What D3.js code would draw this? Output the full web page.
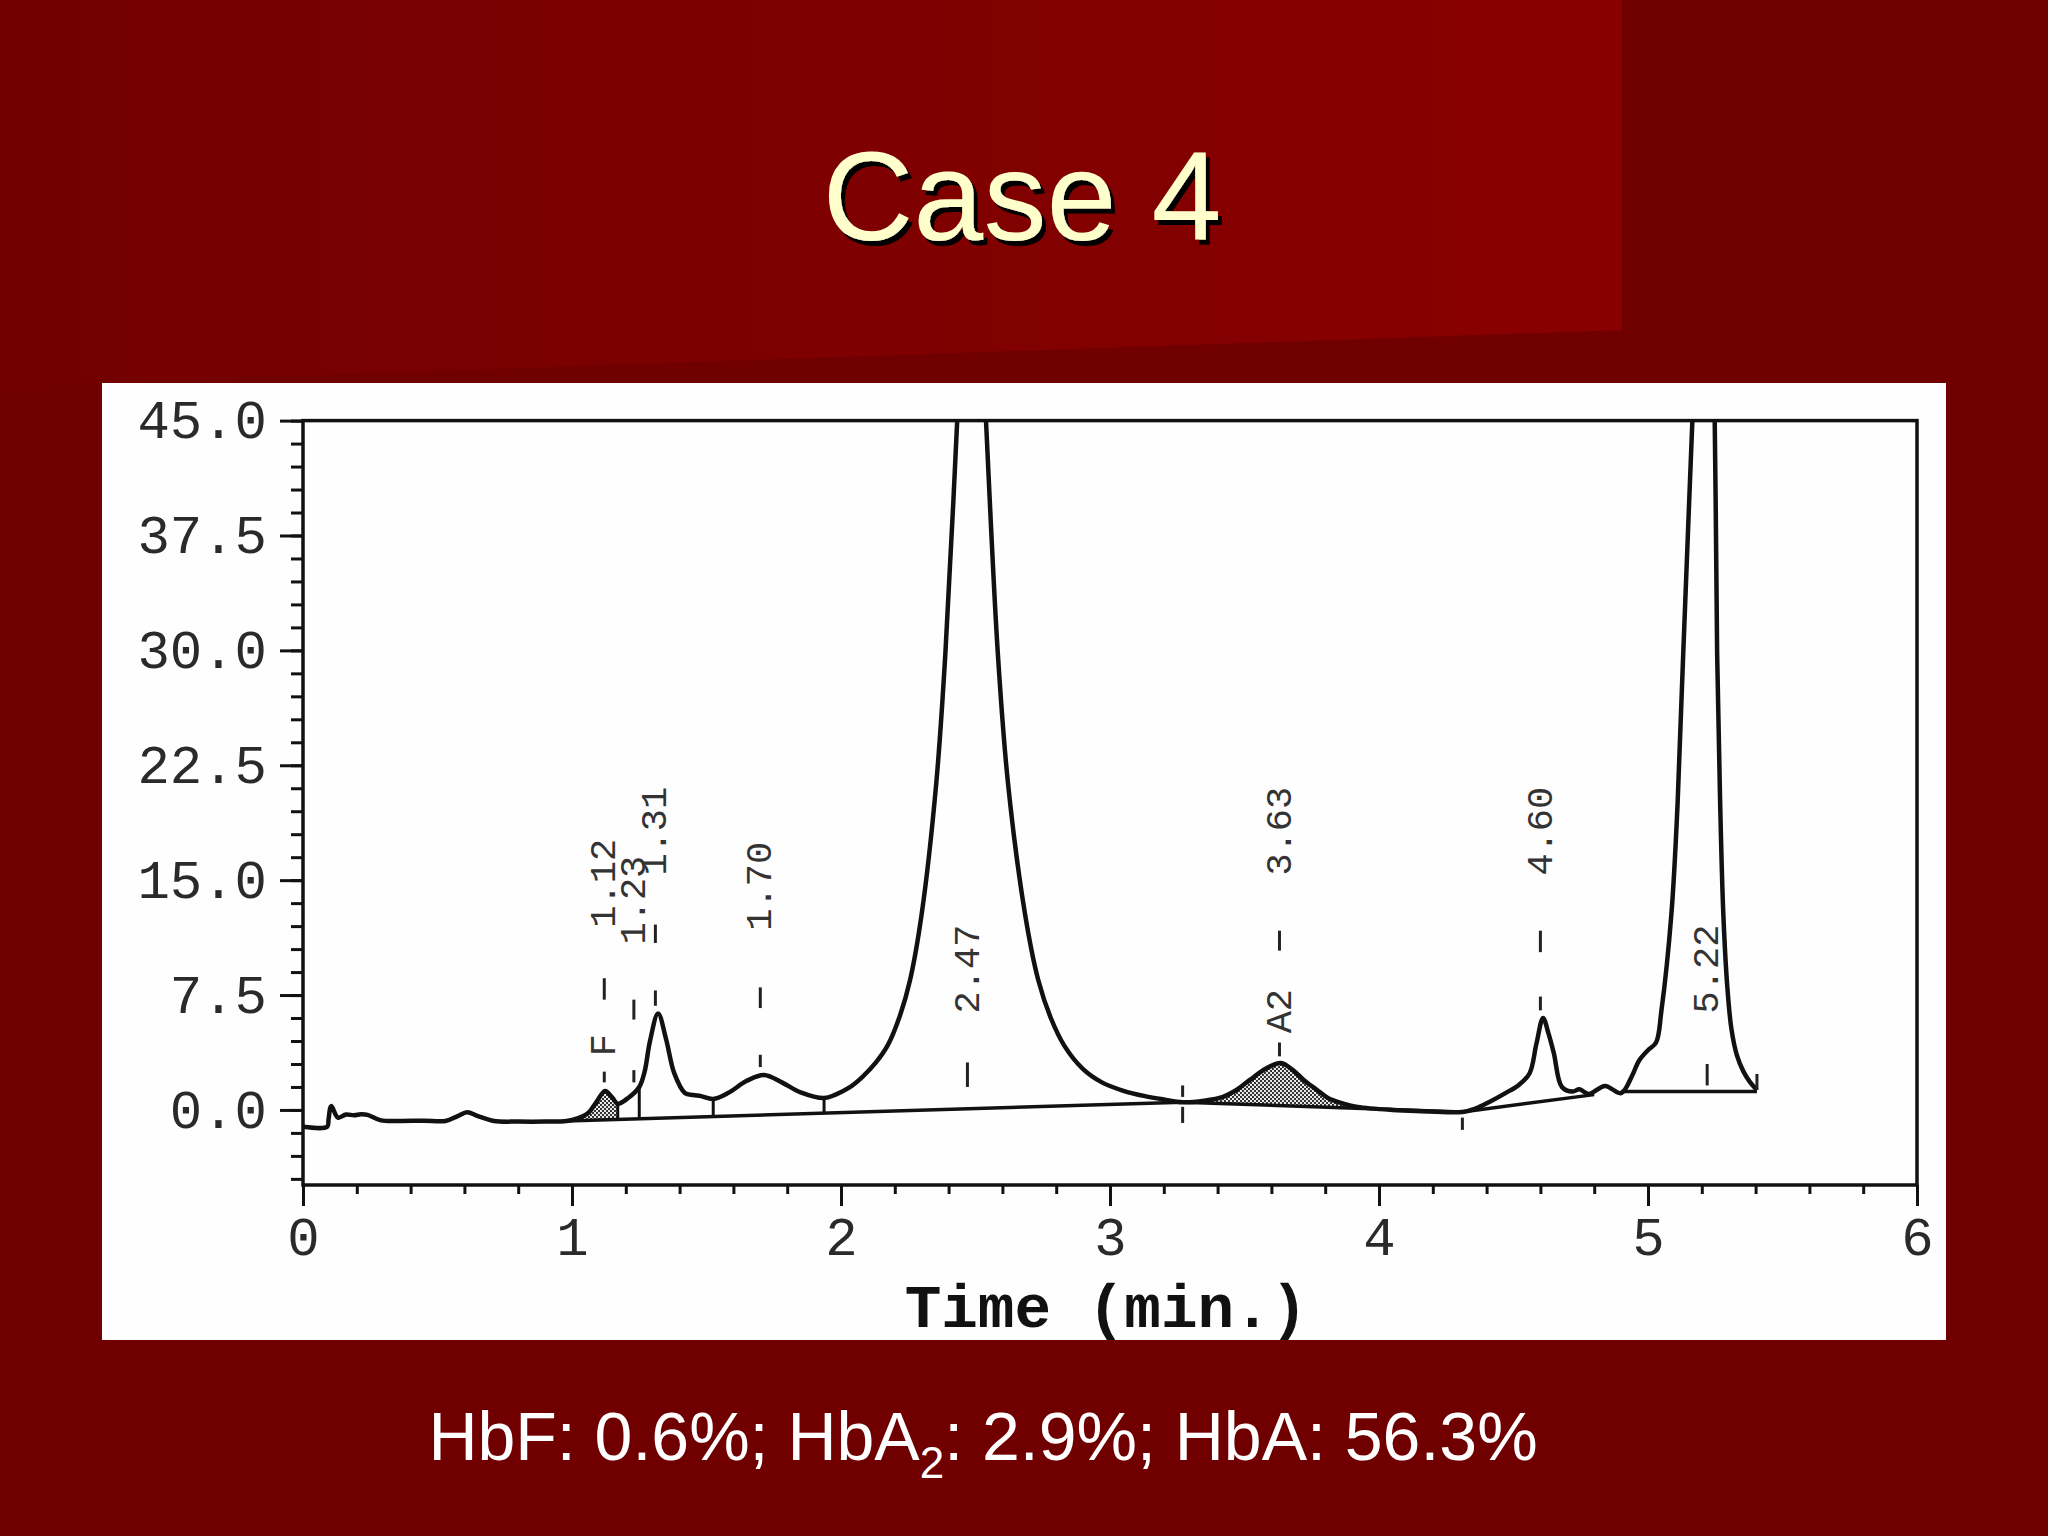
<!DOCTYPE html>
<html><head><meta charset="utf-8">
<script src="https://cdn.jsdelivr.net/npm/d3@7"></script>
<style>html,body{margin:0;padding:0;background:#700000;} svg{display:block}</style>
</head><body>
<svg id="c" width="2048" height="1536"></svg>
<script>
// ---------- data ----------
const times = [0, 0.09, 0.095, 0.105, 0.13, 0.16, 0.19, 0.215, 0.24, 0.29, 0.36, 0.45, 0.53, 0.575, 0.61, 0.65, 0.71, 0.80, 0.90, 0.98, 1.02, 1.06, 1.09, 1.123, 1.15, 1.17, 1.21, 1.25, 1.27, 1.29, 1.32, 1.35, 1.38, 1.42, 1.45, 1.48, 1.525, 1.58, 1.65, 1.714, 1.78, 1.85, 1.937, 1.98, 2.03, 2.078, 2.13, 2.175, 2.22, 2.257, 2.30, 2.354, 2.388, 2.432, 2.47, 2.50, 2.539, 2.583, 2.621, 2.684, 2.733, 2.78, 2.83, 2.898, 2.97, 3.05, 3.13, 3.20, 3.27, 3.35, 3.42, 3.47, 3.52, 3.58, 3.635, 3.68, 3.72, 3.77, 3.81, 3.87, 3.92, 4.05, 4.14, 4.31, 4.36, 4.41, 4.47, 4.52, 4.56, 4.585, 4.61, 4.63, 4.65, 4.68, 4.72, 4.745, 4.78, 4.84, 4.90, 4.94, 4.966, 5.00, 5.03, 5.05, 5.087, 5.11, 5.131, 5.165, 5.20, 5.23, 5.248, 5.257, 5.268, 5.28, 5.295, 5.31, 5.33, 5.355, 5.38, 5.405];
const signal = [-1.1, -1.1, -0.6, 0.25, -0.5, -0.3, -0.35, -0.28, -0.32, -0.68, -0.72, -0.7, -0.72, -0.4, -0.15, -0.4, -0.72, -0.76, -0.76, -0.72, -0.55, -0.2, 0.5, 1.24, 0.8, 0.4, 0.8, 1.5, 2.5, 4.5, 6.3, 4.6, 2.4, 1.1, 0.98, 0.9, 0.72, 1.1, 1.9, 2.28, 1.8, 1.15, 0.78, 1.0, 1.45, 2.13, 3.1, 4.26, 6.2, 8.5, 12.8, 21.3, 29.8, 45, 60, 60, 45, 29.8, 21.3, 12.8, 8.5, 6.0, 4.2, 2.7, 1.8, 1.25, 0.9, 0.68, 0.5, 0.6, 0.85, 1.3, 1.96, 2.7, 3.07, 2.6, 1.96, 1.3, 0.78, 0.4, 0.2, 0.0, -0.07, -0.13, 0.1, 0.52, 1.1, 1.63, 2.4, 4.3, 6.0, 5.0, 3.7, 1.5, 1.2, 1.35, 1.04, 1.57, 1.1, 2.2, 3.2, 3.9, 4.4, 6.5, 12.8, 20.0, 29.8, 45, 60, 60, 45, 29.8, 20.2, 12.8, 8.0, 5.3, 3.6, 2.5, 1.8, 1.3];

const yTicksMajor = [0, 7.5, 15, 22.5, 30, 37.5, 45];
const yTicksMinor = d3.range(-4.5, 45.01, 1.5);
const xTicksMajor = [0, 1, 2, 3, 4, 5, 6];
const xTicksMinor = d3.range(0, 6.001, 0.2);

const peakTimes  = [1.12, 1.23, 1.31, 1.70, 2.47, 3.63, 4.60, 5.22];
const peakLabels = ["1.12", "1.23", "1.31", "1.70", "2.47", "3.63", "4.60", "5.22"];
const peakNameTimes = [1.12, 3.63];
const peakNames = ["F", "A2"];

// integration baselines [t0, v0, t1, v1]
const baselines = [[0.98, -0.72, 3.27, 0.5], [3.27, 0.5, 4.31, -0.13], [4.31, -0.13, 4.80, 1.0], [4.90, 1.2, 5.405, 1.2]];
const dropTimes = [1.17, 1.25, 1.525, 1.937];
const shadedRanges = [[0.98, 1.17], [3.27, 3.95]];
// retention / event marks [t, vTop, vBottom]
const marks = [[1.12, 8.6, 7.2], [1.12, 2.5, 1.8], [1.23, 7.2, 5.9], [1.23, 2.6, 1.8], [1.31, 12.1, 10.9], [1.31, 7.8, 6.8], [1.70, 8.0, 6.65], [1.70, 3.6, 2.8], [2.47, 3.1, 1.5], [3.63, 11.7, 10.4], [3.63, 4.4, 3.5], [4.60, 11.7, 10.3], [4.60, 7.4, 6.5], [5.22, 3.0, 1.6], [3.27, 1.6, 0.85], [3.27, 0.2, -0.85], [4.31, -0.5, -1.3], [5.405, 2.35, 1.3]];

const title = "Case 4";
const summaryParts = ["HbF: 0.6%; HbA", "2", ": 2.9%; HbA: 56.3%"];
const xTitle = "Time (min.)";

// ---------- layout ----------
const labelLevels = [11.9, 10.8, 15.3, 11.7, 6.3, 15.3, 15.3, 6.3];
const nameLevels = [3.5, 5.0];
const L = 303, R = 1917, T = 420.6, B = 1185;

const svg = d3.select("#c");
const defs = svg.append("defs");
const g1 = defs.append("linearGradient").attr("id", "bandGrad").attr("x1", 0).attr("x2", 1).attr("y1", 0).attr("y2", 0);
g1.append("stop").attr("offset", "0%").attr("stop-color", "#720000");
g1.append("stop").attr("offset", "100%").attr("stop-color", "#8a0000");
const pat = defs.append("pattern").attr("id", "dots").attr("width", 4).attr("height", 4).attr("patternUnits", "userSpaceOnUse");
pat.append("rect").attr("width", 4).attr("height", 4).attr("fill", "#e8e8e8");
pat.append("rect").attr("width", 2).attr("height", 2).attr("fill", "#333");
pat.append("rect").attr("x", 2).attr("y", 2).attr("width", 2).attr("height", 2).attr("fill", "#333");
defs.append("clipPath").attr("id", "plotClip").append("rect").attr("x", L).attr("y", T).attr("width", R - L).attr("height", B - T);
const flt = defs.append("filter").attr("id", "shadow").attr("x", "-10%").attr("y", "-10%").attr("width", "130%").attr("height", "130%");
flt.append("feDropShadow").attr("dx", 4).attr("dy", 5).attr("stdDeviation", 0).attr("flood-color", "#000").attr("flood-opacity", 1);

// background
svg.append("rect").attr("width", 2048).attr("height", 1536).attr("fill", "#700000");
svg.append("path").attr("d", "M0,0 L1622,0 L1622,330 L0,386 Z").attr("fill", "url(#bandGrad)");

// title
svg.append("text").attr("x", 1022).attr("y", 240).attr("text-anchor", "middle")
  .attr("font-family", "Liberation Sans, Arial, sans-serif").attr("font-size", 126).attr("fill", "#ffffcc")
  .attr("filter", "url(#shadow)").text(title);

// panel
svg.append("rect").attr("x", 102).attr("y", 383).attr("width", 1844).attr("height", 957).attr("fill", "#fefefe");

const x = d3.scaleLinear().domain([0, 6]).range([L, R]);
const y = d3.scaleLinear().domain([-4.9, 45]).range([B, T]);

const pts = times.map((t, i) => ({t, v: signal[i]}));
const signalAt = t => {
  const i = d3.bisector(d => d.t).left(pts, t);
  if (i <= 0) return pts[0].v;
  if (i >= pts.length) return pts[pts.length - 1].v;
  const a = pts[i - 1], b = pts[i];
  return a.v + (b.v - a.v) * (t - a.t) / (b.t - a.t);
};
const baselineAt = t => {
  for (const s of baselines) if (t >= s[0] && t <= s[2]) return s[1] + (s[3] - s[1]) * (t - s[0]) / (s[2] - s[0]);
  return null;
};

const curve = d3.curveCatmullRom.alpha(0.5);
const plot = svg.append("g").attr("clip-path", "url(#plotClip)");

// shaded areas
shadedRanges.forEach(([a, b]) => {
  const sub = [{t: a, v: signalAt(a)}].concat(pts.filter(p => p.t > a && p.t < b)).concat([{t: b, v: signalAt(b)}]);
  const area = d3.area().curve(curve)
    .x(d => x(d.t)).y0(d => y(baselineAt(d.t))).y1(d => y(Math.max(d.v, baselineAt(d.t))));
  plot.append("path").datum(sub).attr("d", area).attr("fill", "url(#dots)");
});

// baselines
plot.selectAll("line.base").data(baselines).enter().append("line")
  .attr("x1", d => x(d[0])).attr("y1", d => y(d[1])).attr("x2", d => x(d[2])).attr("y2", d => y(d[3]))
  .attr("stroke", "#111").attr("stroke-width", 3.5);

// drop lines
plot.selectAll("line.drop").data(dropTimes).enter().append("line")
  .attr("x1", d => x(d)).attr("x2", d => x(d)).attr("y1", d => y(signalAt(d))).attr("y2", d => y(baselineAt(d)))
  .attr("stroke", "#111").attr("stroke-width", 3);

// signal line
const line = d3.line().curve(curve).x(d => x(d.t)).y(d => y(d.v));
plot.append("path").datum(pts).attr("d", line).attr("fill", "none").attr("stroke", "#111")
  .attr("stroke-width", 4.5).attr("stroke-linejoin", "round");

// marks
svg.selectAll("line.mark").data(marks).enter().append("line")
  .attr("x1", d => x(d[0])).attr("x2", d => x(d[0])).attr("y1", d => y(d[1])).attr("y2", d => y(d[2]))
  .attr("stroke", "#222").attr("stroke-width", 3);

// peak labels
const mono = "Liberation Mono, Courier New, monospace";
peakTimes.forEach((t, i) => {
  svg.append("text").attr("transform", `translate(${x(t)},${y(labelLevels[i])}) rotate(-90)`)
    .attr("dy", "0.3em").attr("font-family", mono).attr("font-size", 37).attr("fill", "#333").text(peakLabels[i]);
});
peakNameTimes.forEach((t, i) => {
  svg.append("text").attr("transform", `translate(${x(t)},${y(nameLevels[i])}) rotate(-90)`)
    .attr("dy", "0.3em").attr("font-family", mono).attr("font-size", 37).attr("fill", "#333").text(peakNames[i]);
});

// axes
const axStyle = g => {
  g.select(".domain").remove();
  g.selectAll("line").attr("stroke", "#111").attr("stroke-width", 3);
  g.selectAll("text").attr("font-family", mono).attr("font-size", 54).attr("fill", "#2a2a2a");
};
svg.append("g").attr("transform", `translate(${L},0)`)
  .call(d3.axisLeft(y).tickValues(yTicksMinor).tickSize(12).tickSizeOuter(0).tickFormat(""))
  .call(axStyle);
svg.append("g").attr("transform", `translate(${L},0)`)
  .call(d3.axisLeft(y).tickValues(yTicksMajor).tickSize(23).tickPadding(13).tickSizeOuter(0).tickFormat(d3.format(".1f")))
  .call(axStyle);
svg.append("g").attr("transform", `translate(0,${B})`)
  .call(d3.axisBottom(x).tickValues(xTicksMinor).tickSize(9).tickSizeOuter(0).tickFormat(""))
  .call(axStyle);
svg.append("g").attr("transform", `translate(0,${B})`)
  .call(d3.axisBottom(x).tickValues(xTicksMajor).tickSize(21).tickPadding(11).tickSizeOuter(0).tickFormat(d3.format("d")))
  .call(axStyle);

// frame
svg.append("rect").attr("x", L).attr("y", T).attr("width", R - L).attr("height", B - T)
  .attr("fill", "none").attr("stroke", "#111").attr("stroke-width", 3.5);

// x title
svg.append("text").attr("x", 1106).attr("y", 1327).attr("text-anchor", "middle")
  .attr("font-family", mono).attr("font-weight", "bold").attr("font-size", 61).attr("fill", "#111").text(xTitle);

// summary
const st = svg.append("text").attr("x", 983).attr("y", 1460).attr("text-anchor", "middle")
  .attr("font-family", "Liberation Sans, Arial, sans-serif").attr("font-size", 68).attr("fill", "#ffffff");
st.append("tspan").text(summaryParts[0]);
st.append("tspan").attr("dy", 18).attr("font-size", 44).text(summaryParts[1]);
st.append("tspan").attr("dy", -18).text(summaryParts[2]);
</script>
</body></html>
